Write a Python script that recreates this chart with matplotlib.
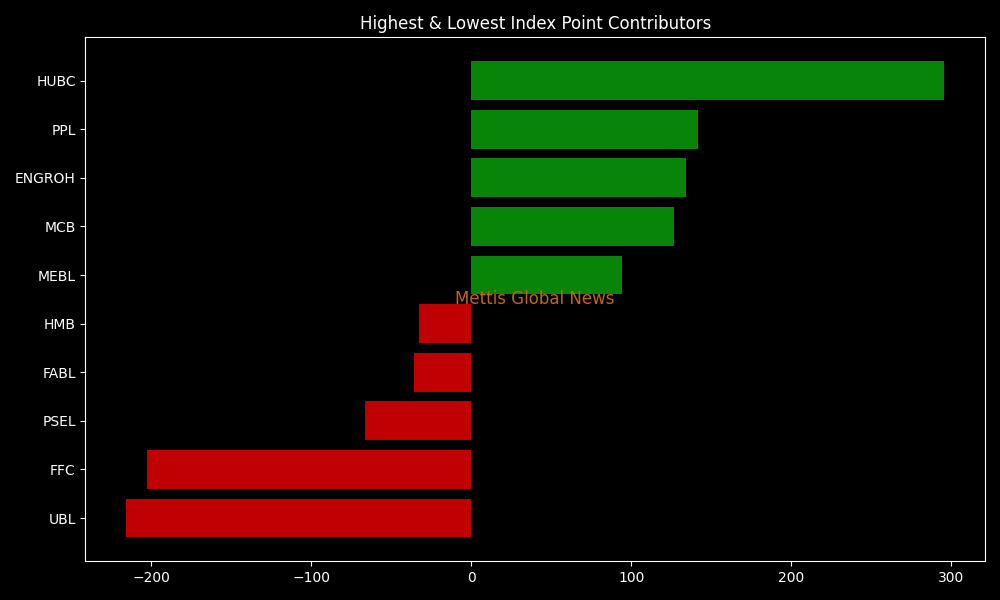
import matplotlib
matplotlib.use("Agg")
import matplotlib.pyplot as plt

# ── Data (top to bottom as shown) ─────────────────────────
symbols = ["HUBC", "PPL", "ENGROH", "MCB", "MEBL", "HMB", "FABL", "PSEL", "FFC", "UBL"]
points  = [295.6, 141.9, 134.4, 126.9, 94.4, -32.5, -35.6, -66.3, -202.5, -215.6]

plt.style.use("dark_background")
fig, ax = plt.subplots(figsize=(10, 6), dpi=100)

labels = symbols[::-1]
vals   = points[::-1]
colors = ["#088508" if v > 0 else "#c00000" for v in vals]
ax.barh(labels, vals, color=colors)

ax.set_title("Highest & Lowest Index Point Contributors")
ax.text(0.5, 0.5, "Mettis Global News", transform=ax.transAxes,
        ha="center", va="center", fontsize=12, color="#c0651a")

plt.tight_layout()
plt.savefig("out.png")
